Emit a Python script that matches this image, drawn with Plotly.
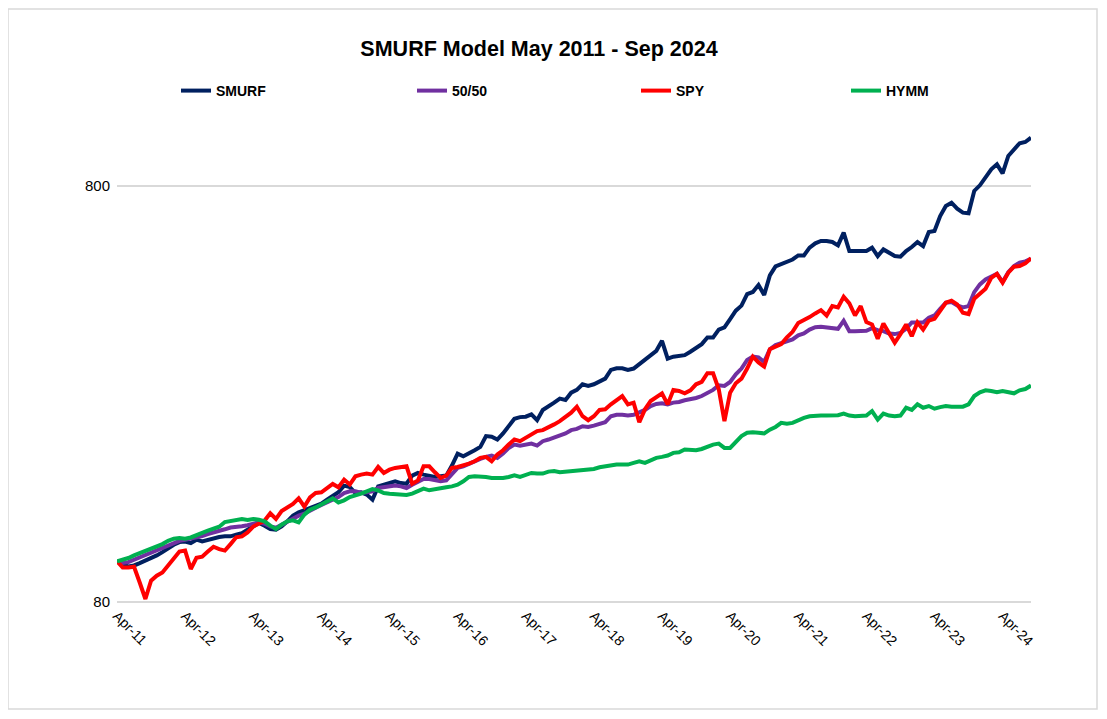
import math
import plotly.graph_objects as go

# ---------------- data (monthly, Apr 2011 = 100) ----------------
month_names = ["Jan", "Feb", "Mar", "Apr", "May", "Jun",
               "Jul", "Aug", "Sep", "Oct", "Nov", "Dec"]
start_year, start_month, n_months = 2011, 3, 162   # Apr-11 .. Sep-24
months = []
for k in range(n_months):
    m = (start_month + k) % 12
    y = start_year + (start_month + k) // 12
    months.append(f"{month_names[m]}-{y % 100:02d}")
tick_labels = [m for m in months if m.startswith("Apr")]

smurf = [
    100, 98.2, 97.3, 97.8, 99.1, 100.4, 101.9, 103.4, 105.3, 107.7, 109.7, 111.3,
    111.7, 110.7, 112.8, 111.7, 112.8, 113.8, 114.5, 114.9, 114.9, 116.0, 117.0, 119.2,
    121.4, 123.7, 121.9, 119.6, 119.2, 121.4, 124.9, 128.9, 131.2, 132.7, 134.4, 135.6,
    137.7, 140.8, 144.0, 146.7, 152.2, 151.1, 146.1, 146.7, 144.8, 140.8, 151.6, 153.0,
    154.4, 155.9, 154.4, 153.8, 160.9, 163.3, 161.8, 160.3, 159.7, 160.3, 160.9, 170.1,
    181.8, 179.1, 181.8, 185.2, 188.7, 200.3, 199.6, 196.5, 203.3, 211.7, 220.5, 222.5,
    223.0, 225.9, 218.8, 231.5, 235.7, 241.1, 246.5, 244.7, 254.8, 258.7, 266.9, 264.4,
    266.9, 271.9, 275.4, 289.0, 291.7, 291.7, 289.0, 291.2, 298.3, 306.6, 313.7, 321.3,
    339.6, 307.7, 311.0, 312.2, 313.7, 319.6, 327.3, 333.4, 346.0, 346.0, 361.2, 365.8,
    383.0, 401.3, 412.7, 440.2, 445.2, 462.7, 438.0, 488.0, 513.0, 520.0, 525.0, 533.0,
    545.0, 545.2, 569.0, 582.8, 590.4, 590.4, 587.1, 576.3, 618.3, 558.5, 558.5, 558.5,
    558.5, 569.0, 543.1, 563.6, 553.3, 543.1, 541.1, 558.5, 571.0, 587.1, 574.1, 620.6,
    624.1, 678.3, 716.8, 730.2, 706.3, 690.8, 688.3, 779.2, 804.0, 838.9, 878.5, 903.1,
    859.2, 946.0, 981.7, 1015.0, 1022.0, 1047.0,
]

fifty_fifty = [
    100, 99.1, 99.6, 100.9, 102.4, 103.8, 105.1, 106.7, 108.1, 109.7, 111.1, 112.1,
    112.8, 113.4, 114.2, 115.1, 116.4, 117.2, 118.1, 119.5, 120.7, 120.8, 121.5, 122.2,
    123.2, 124.2, 123.2, 121.4, 120.5, 122.6, 124.9, 127.2, 128.9, 130.3, 132.7, 134.7,
    136.7, 138.7, 141.3, 142.9, 146.1, 147.5, 147.5, 146.1, 146.7, 147.5, 150.2, 150.8,
    151.6, 152.2, 151.6, 150.2, 153.0, 155.0, 157.9, 157.9, 156.7, 155.9, 156.7, 161.8,
    167.9, 169.4, 172.0, 174.2, 176.5, 178.5, 179.8, 177.5, 181.8, 187.6, 191.1, 190.0,
    191.1, 192.1, 190.0, 194.7, 196.5, 198.4, 200.3, 203.3, 207.0, 208.4, 211.5, 210.7,
    212.3, 214.6, 216.4, 223.6, 225.3, 225.3, 224.5, 225.3, 228.0, 231.5, 236.6, 239.3,
    240.2, 238.8, 241.1, 242.0, 244.3, 245.6, 247.4, 250.1, 253.9, 258.7, 265.4, 264.4,
    270.4, 282.2, 291.2, 305.4, 311.0, 309.6, 302.3, 324.1, 331.6, 334.9, 339.6, 342.2,
    350.0, 353.7, 361.5, 366.3, 367.0, 365.6, 364.3, 362.9, 379.6, 358.3, 358.3, 358.9,
    358.9, 364.3, 360.2, 358.3, 353.7, 352.5, 354.9, 362.9, 376.0, 376.0, 376.0, 385.9,
    390.8, 405.5, 419.4, 420.9, 413.2, 408.8, 411.7, 444.8, 464.2, 477.2, 484.3, 492.0,
    470.2, 497.0, 513.9, 523.5, 527.4, 535.3,
]

spy = [
    100, 96.7, 96.7, 97.1, 89.0, 81.2, 89.9, 92.4, 94.1, 97.6, 101.4, 105.6,
    106.2, 95.9, 102.0, 102.7, 105.6, 108.5, 107.1, 106.2, 110.1, 114.3, 114.9, 117.4,
    121.3, 123.1, 125.4, 130.6, 126.6, 132.2, 135.0, 137.5, 141.9, 135.5, 142.6, 146.1,
    146.7, 150.0, 153.6, 150.8, 157.4, 153.1, 160.3, 161.8, 162.7, 161.8, 168.8, 163.3,
    166.3, 167.9, 168.8, 169.4, 153.8, 156.7, 169.4, 169.4, 163.9, 158.8, 160.9, 167.9,
    168.8, 170.1, 172.0, 174.2, 177.5, 178.5, 174.2, 180.8, 185.2, 191.1, 196.5, 194.7,
    198.4, 201.0, 205.9, 207.0, 209.7, 213.7, 217.6, 223.0, 228.0, 235.7, 223.6, 218.7,
    223.6, 231.5, 232.3, 238.8, 244.7, 250.1, 238.8, 241.1, 216.4, 232.3, 243.3, 247.8,
    253.9, 238.8, 258.7, 257.2, 253.9, 258.2, 266.9, 270.4, 283.8, 283.8, 259.7, 217.6,
    254.8, 268.4, 275.4, 291.2, 311.0, 301.2, 294.4, 324.1, 329.1, 333.4, 346.0, 356.9,
    375.0, 380.2, 387.3, 395.3, 402.6, 390.8, 411.7, 408.8, 433.5, 417.8, 390.8, 411.7,
    376.7, 371.9, 343.4, 374.0, 354.9, 335.9, 352.5, 371.9, 348.5, 376.0, 361.5, 379.6,
    383.7, 400.4, 419.4, 424.2, 415.5, 396.7, 393.9, 428.7, 440.2, 453.2, 481.6, 492.0,
    468.5, 495.2, 512.0, 513.9, 521.6, 536.3,
]

hymm = [
    100, 100.7, 101.9, 103.4, 104.7, 106.1, 107.7, 108.9, 110.1, 112.1, 113.4, 113.8,
    113.4, 114.2, 116.0, 117.2, 118.6, 119.9, 121.2, 124.4, 124.9, 126.0, 126.5, 125.8,
    126.5, 126.0, 124.9, 121.9, 119.6, 122.6, 124.9, 125.6, 124.2, 129.6, 133.2, 134.9,
    136.9, 139.5, 141.8, 138.7, 140.3, 142.9, 144.0, 145.6, 147.5, 149.4, 148.3, 146.1,
    145.6, 145.0, 144.5, 144.5, 145.6, 147.5, 149.7, 148.3, 149.4, 150.2, 150.8, 151.6,
    153.0, 155.9, 159.7, 160.3, 160.3, 159.7, 158.8, 158.8, 158.8, 159.7, 161.2, 159.7,
    161.8, 163.3, 162.7, 162.7, 164.5, 165.1, 163.9, 164.5, 164.8, 164.8, 165.7, 166.3,
    166.9, 168.5, 169.4, 170.1, 171.0, 171.0, 171.0, 172.6, 174.2, 172.6, 175.2, 177.5,
    178.5, 179.8, 182.5, 183.2, 185.9, 185.2, 185.2, 186.5, 188.7, 191.1, 192.1, 187.6,
    187.6, 193.5, 200.3, 204.0, 204.7, 204.0, 203.3, 207.6, 210.7, 215.5, 214.6, 215.5,
    218.7, 221.5, 223.6, 224.4, 224.4, 224.4, 224.4, 224.9, 227.0, 224.4, 223.6, 223.6,
    224.4, 230.1, 219.5, 227.0, 224.4, 223.6, 224.4, 234.4, 231.5, 238.8, 234.4, 236.6,
    233.1, 235.2, 236.6, 235.7, 235.7, 235.7, 238.8, 250.1, 255.3, 258.2, 257.2, 255.3,
    257.2, 255.3, 253.9, 258.2, 260.0, 265.0,
]

y_ticks = [80, 800]
y_tick_text = ["80", "800"]

series_names = ["SMURF", "50/50", "SPY", "HYMM"]
series_values = [smurf, fifty_fifty, spy, hymm]
series_colors = ["#002060", "#7030A0", "#FF0000", "#00B050"]

# ---------------- layout geometry (target pixel positions) ----------------
W, H = 1107, 719
OFF = 8                      # page body margin shifts the figure by 8px
plot_left, plot_right = 117, 1031
plot_top, plot_bottom = 125, 604
y80_px = 601.7
px_per_decade = 415.5

ML = plot_left - OFF
MR = W - (plot_right - OFF)
MT = plot_top - OFF
MB = H - (plot_bottom - OFF)
plot_h = plot_bottom - plot_top
pw = plot_right - plot_left

y_lo = math.log10(80) - (plot_bottom - y80_px) / px_per_decade
y_hi = y_lo + plot_h / px_per_decade

fig = go.Figure()
legend_ids = ["legend", "legend2", "legend3", "legend4"]
for name, vals, col, lid in zip(series_names, series_values, series_colors, legend_ids):
    fig.add_trace(go.Scatter(
        x=months, y=vals, name=name, mode="lines",
        line=dict(color=col, width=4),
        legend=lid, hoverinfo="x+y+name",
    ))

font_family = "Liberation Sans, Arial, sans-serif"
legend_line_starts = [182, 418, 642, 852]
legend_common = dict(orientation="h", xref="container", yref="container",
                     yanchor="middle", y=1 - (91 - OFF) / H,
                     bgcolor="rgba(0,0,0,0)",
                     font=dict(family=font_family, size=14, color="#000000",
                               weight="bold"),
                     itemwidth=30)
layout_legends = {}
for lid, xs in zip(legend_ids, legend_line_starts):
    d = dict(legend_common)
    d["x"] = (xs - 6 - OFF) / W
    d["xanchor"] = "left"
    layout_legends[lid] = d

fig.update_layout(
    width=W, height=H,
    margin=dict(l=ML, r=MR, t=MT, b=MB),
    paper_bgcolor="white", plot_bgcolor="white",
    font=dict(family=font_family, color="#000000"),
    title=dict(text="<b>SMURF Model May 2011 - Sep 2024</b>",
               xref="container", yref="container",
               x=(539 - OFF) / W, xanchor="center",
               y=1 - (48 - OFF) / H, yanchor="middle",
               font=dict(family=font_family, size=21.5, color="#000000")),
    showlegend=True,
    **layout_legends,
)

fig.update_xaxes(
    type="category", range=[0, len(months) - 1],
    tickmode="array", tickvals=tick_labels, ticktext=tick_labels,
    tickangle=45, showgrid=False, zeroline=False, showline=False, ticks="",
    tickfont=dict(family=font_family, size=14, color="#000000"),
    automargin=False,
)
fig.update_yaxes(
    type="log", range=[y_lo, y_hi],
    tickmode="array", tickvals=y_ticks, ticktext=y_tick_text,
    showgrid=True, gridcolor="#D9D9D9", gridwidth=1.5,
    zeroline=False, showline=False, ticks="",
    ticklabelstandoff=6,
    tickfont=dict(family=font_family, size=15, color="#000000"),
    automargin=False,
)

# outer chart border
fig.add_shape(type="rect", xref="paper", yref="paper",
              x0=(8 - plot_left) / pw, x1=(1097 - plot_left) / pw,
              y0=(plot_bottom - 709) / plot_h, y1=(plot_bottom - 9) / plot_h,
              line=dict(color="#D9D9D9", width=1.5), fillcolor="rgba(0,0,0,0)",
              layer="below")

fig.write_html("out.html")
